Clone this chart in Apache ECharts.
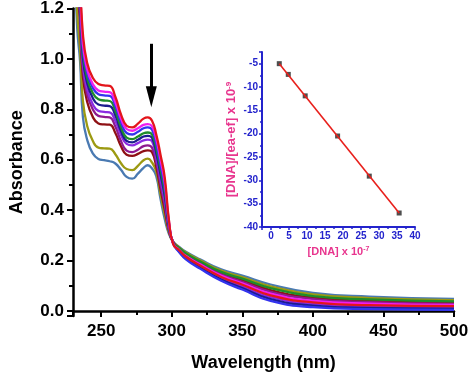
<!DOCTYPE html>
<html>
<head>
<meta charset="utf-8">
<script src="https://cdn.jsdelivr.net/npm/echarts@6/dist/echarts.min.js"></script>
<style>
  html, body { margin: 0; padding: 0; background: #fff; }
  #chart { width: 474px; height: 377px; }
</style>
</head>
<body>
<div id="chart"></div>
<script>
// UV-vis titration spectra (nm vs absorbance)
const wavelength = [231, 233, 235, 237, 240, 244, 248, 252, 256, 260, 264, 268, 272, 276, 280, 283, 286,
  289, 292, 295, 298, 301, 305, 310, 320, 335, 350, 370, 400, 440, 500]

const absRed = [1.75, 1.50, 1.32, 1.10, 0.985, 0.925, 0.90, 0.895, 0.893, 0.85, 0.78, 0.735, 0.728, 0.743, 0.763, 0.768, 0.755,
  0.70, 0.62, 0.53, 0.36, 0.265, 0.242, 0.215, 0.180, 0.135, 0.104, 0.062, 0.034, 0.023, 0.019]
const absMagenta = [1.72, 1.47, 1.28, 1.06, 0.96, 0.90, 0.875, 0.870, 0.868, 0.828, 0.763, 0.722, 0.715, 0.725, 0.738, 0.741, 0.733,
  0.682, 0.601, 0.512, 0.354, 0.266, 0.244, 0.218, 0.185, 0.140, 0.110, 0.069, 0.040, 0.029, 0.024]
const absBlue = [1.70, 1.45, 1.26, 1.045, 0.945, 0.885, 0.860, 0.855, 0.853, 0.813, 0.748, 0.706, 0.700, 0.711, 0.725, 0.728, 0.719,
  0.663, 0.581, 0.493, 0.348, 0.267, 0.235, 0.205, 0.168, 0.120, 0.085, 0.040, 0.015, 0.007, 0.004]
const absGreen = [1.68, 1.42, 1.24, 1.025, 0.925, 0.865, 0.840, 0.835, 0.833, 0.794, 0.730, 0.688, 0.682, 0.692, 0.705, 0.708, 0.700,
  0.645, 0.562, 0.475, 0.342, 0.268, 0.251, 0.228, 0.197, 0.155, 0.128, 0.091, 0.059, 0.046, 0.038]
const absNavy = [1.66, 1.40, 1.22, 1.005, 0.905, 0.845, 0.819, 0.815, 0.813, 0.776, 0.714, 0.675, 0.669, 0.679, 0.692, 0.695, 0.687,
  0.627, 0.542, 0.457, 0.336, 0.269, 0.237, 0.208, 0.172, 0.125, 0.091, 0.047, 0.021, 0.012, 0.009]
const absViolet = [1.63, 1.37, 1.19, 0.98, 0.88, 0.82, 0.794, 0.790, 0.788, 0.754, 0.698, 0.663, 0.657, 0.666, 0.677, 0.680, 0.673,
  0.608, 0.523, 0.438, 0.329, 0.271, 0.240, 0.212, 0.176, 0.130, 0.097, 0.055, 0.028, 0.018, 0.014]
const absPurple = [1.60, 1.34, 1.17, 0.96, 0.86, 0.80, 0.774, 0.770, 0.768, 0.732, 0.674, 0.636, 0.630, 0.640, 0.654, 0.657, 0.648,
  0.590, 0.503, 0.420, 0.323, 0.272, 0.246, 0.222, 0.189, 0.145, 0.116, 0.076, 0.047, 0.035, 0.028]
const absMaroon = [1.56, 1.30, 1.14, 0.93, 0.83, 0.77, 0.744, 0.740, 0.739, 0.706, 0.654, 0.620, 0.615, 0.623, 0.634, 0.637, 0.630,
  0.572, 0.484, 0.402, 0.317, 0.273, 0.248, 0.225, 0.193, 0.150, 0.122, 0.083, 0.053, 0.040, 0.033]
const absOlive = [1.48, 1.18, 1.04, 0.835, 0.735, 0.675, 0.648, 0.645, 0.644, 0.622, 0.586, 0.563, 0.559, 0.576, 0.598, 0.604, 0.589,
  0.553, 0.464, 0.383, 0.311, 0.274, 0.253, 0.232, 0.201, 0.160, 0.134, 0.098, 0.066, 0.051, 0.043]
const absSteel = [1.45, 1.12, 0.99, 0.77, 0.68, 0.625, 0.603, 0.598, 0.594, 0.585, 0.56, 0.532, 0.525, 0.545, 0.568, 0.578, 0.565,
  0.535, 0.445, 0.365, 0.305, 0.275, 0.255, 0.235, 0.205, 0.165, 0.140, 0.105, 0.072, 0.057, 0.048]

// inset: [DNA] x 10^-7 vs [DNA]/(ea-ef) x 10^-9
const dnaConc = [2.3, 4.8, 9.5, 18.5, 27.3, 35.6]
const dnaRatio = [-5.0, -7.3, -11.9, -20.5, -29.1, -37.0]
const fitLine = [[2.3, -5.0], [35.6, -37.0]]

const spectra = [
  { name: 'steel', color: '#4a7ab2', data: absSteel },
  { name: 'olive', color: '#9c9a12', data: absOlive },
  { name: 'maroon', color: '#8e1014', data: absMaroon },
  { name: 'purple', color: '#8e1a8e', data: absPurple },
  { name: 'violet', color: '#8a2be2', data: absViolet },
  { name: 'navy', color: '#1c1c8e', data: absNavy },
  { name: 'green', color: '#1e8c2a', data: absGreen },
  { name: 'blue', color: '#3333ee', data: absBlue },
  { name: 'magenta', color: '#f01ef0', data: absMagenta },
  { name: 'red', color: '#e3151b', data: absRed }
]

const FONT = '"Liberation Sans", Arial, sans-serif'
const BLUE = '#2323cc'
const PINK = '#e8358e'

const series = spectra.map((s) => {
  return {
    name: s.name,
    type: 'line',
    xAxisIndex: 0,
    yAxisIndex: 0,
    smooth: 0.5,
    showSymbol: false,
    clip: true,
    lineStyle: { width: 2.3, color: s.color },
    data: wavelength.map((w, i) => [w, s.data[i]])
  }
})

// arrow marking the hypochromic change
series[series.length - 1].markLine = {
  silent: true,
  animation: false,
  label: { show: false },
  lineStyle: { color: '#000', width: 3, type: 'solid' },
  data: [[
    { coord: [285.5, 1.06], symbol: 'none' },
    { coord: [285.5, 0.85], symbol: 'triangle', symbolSize: [11, 21] }
  ]]
}

series.push({
  name: 'fit',
  type: 'line',
  xAxisIndex: 1,
  yAxisIndex: 1,
  showSymbol: false,
  lineStyle: { width: 1.6, color: '#e8201c' },
  data: fitLine
})
series.push({
  name: 'points',
  type: 'scatter',
  xAxisIndex: 1,
  yAxisIndex: 1,
  symbol: 'rect',
  symbolSize: 5,
  itemStyle: { color: '#222' },
  data: dnaConc.map((x, i) => [x, dnaRatio[i]])
})

const option = {
  animation: false,
  backgroundColor: '#fff',
  grid: [
    { left: 69, right: 20, top: 7, bottom: 57 },
    { left: 262, right: 59, top: 52, bottom: 150 }
  ],
  xAxis: [
    {
      gridIndex: 0,
      type: 'value',
      min: 230,
      max: 500,
      splitNumber: 5,
      name: 'Wavelength (nm)',
      nameLocation: 'middle',
      nameGap: 38,
      nameTextStyle: { fontFamily: FONT, fontWeight: 'bold', fontSize: 18, color: '#000' },
      axisLine: { lineStyle: { color: '#000', width: 2.5 } },
      axisTick: { length: 6, lineStyle: { width: 2, color: '#000' } },
      minorTick: { show: true, splitNumber: 2, length: 4, lineStyle: { width: 2, color: '#000' } },
      axisLabel: { showMinLabel: false, margin: 7, fontFamily: FONT, fontWeight: 'bold', fontSize: 17, color: '#000' },
      splitLine: { show: false }
    },
    {
      gridIndex: 1,
      type: 'value',
      min: -2.5,
      max: 40,
      splitNumber: 9,
      name: '[DNA] x 10{sup|-7}',
      nameLocation: 'middle',
      nameGap: 19,
      nameTextStyle: {
        fontFamily: FONT, fontWeight: 'bold', fontSize: 11, color: PINK,
        rich: { sup: { fontFamily: FONT, fontWeight: 'bold', fontSize: 7, color: PINK, verticalAlign: 'top', lineHeight: 8 } }
      },
      axisLine: { lineStyle: { color: BLUE, width: 2 } },
      axisTick: { length: 3, lineStyle: { width: 1.5, color: BLUE } },
      minorTick: { show: true, splitNumber: 2, length: 2, lineStyle: { width: 1.5, color: BLUE } },
      axisLabel: { showMinLabel: false, margin: 4, fontFamily: FONT, fontWeight: 'bold', fontSize: 10, color: BLUE },
      splitLine: { show: false }
    }
  ],
  yAxis: [
    {
      gridIndex: 0,
      type: 'value',
      min: -0.02,
      max: 1.2,
      splitNumber: 6,
      name: 'Absorbance',
      nameLocation: 'middle',
      nameGap: 47,
      nameTextStyle: { fontFamily: FONT, fontWeight: 'bold', fontSize: 18, color: '#000' },
      axisLine: { lineStyle: { color: '#000', width: 2.5 } },
      axisTick: { length: 6, lineStyle: { width: 2, color: '#000' } },
      minorTick: { show: true, splitNumber: 2, length: 4, lineStyle: { width: 2, color: '#000' } },
      axisLabel: {
        showMinLabel: false, margin: 9, fontFamily: FONT, fontWeight: 'bold', fontSize: 17, color: '#000',
        formatter: (v) => v.toFixed(1)
      },
      splitLine: { show: false }
    },
    {
      gridIndex: 1,
      type: 'value',
      min: -40,
      max: -2.5,
      interval: 5,
      name: '[DNA]/[ea-ef] x 10{sup|-9}',
      nameLocation: 'middle',
      nameGap: 24,
      nameTextStyle: {
        fontFamily: FONT, fontWeight: 'bold', fontSize: 13, color: PINK,
        rich: { sup: { fontFamily: FONT, fontWeight: 'bold', fontSize: 8, color: PINK, verticalAlign: 'top', lineHeight: 8 } }
      },
      axisLine: { onZero: false, lineStyle: { color: BLUE, width: 2 } },
      axisTick: { length: 3, lineStyle: { width: 1.5, color: BLUE } },
      minorTick: { show: true, splitNumber: 2, length: 2, lineStyle: { width: 1.5, color: BLUE } },
      axisLabel: { showMaxLabel: false, margin: 4, fontFamily: FONT, fontWeight: 'bold', fontSize: 10, color: BLUE },
      splitLine: { show: false }
    }
  ],
  series: series
}

const chart = echarts.init(document.getElementById('chart'), null, { renderer: 'canvas' })
chart.setOption(option)
</script>
</body>
</html>
